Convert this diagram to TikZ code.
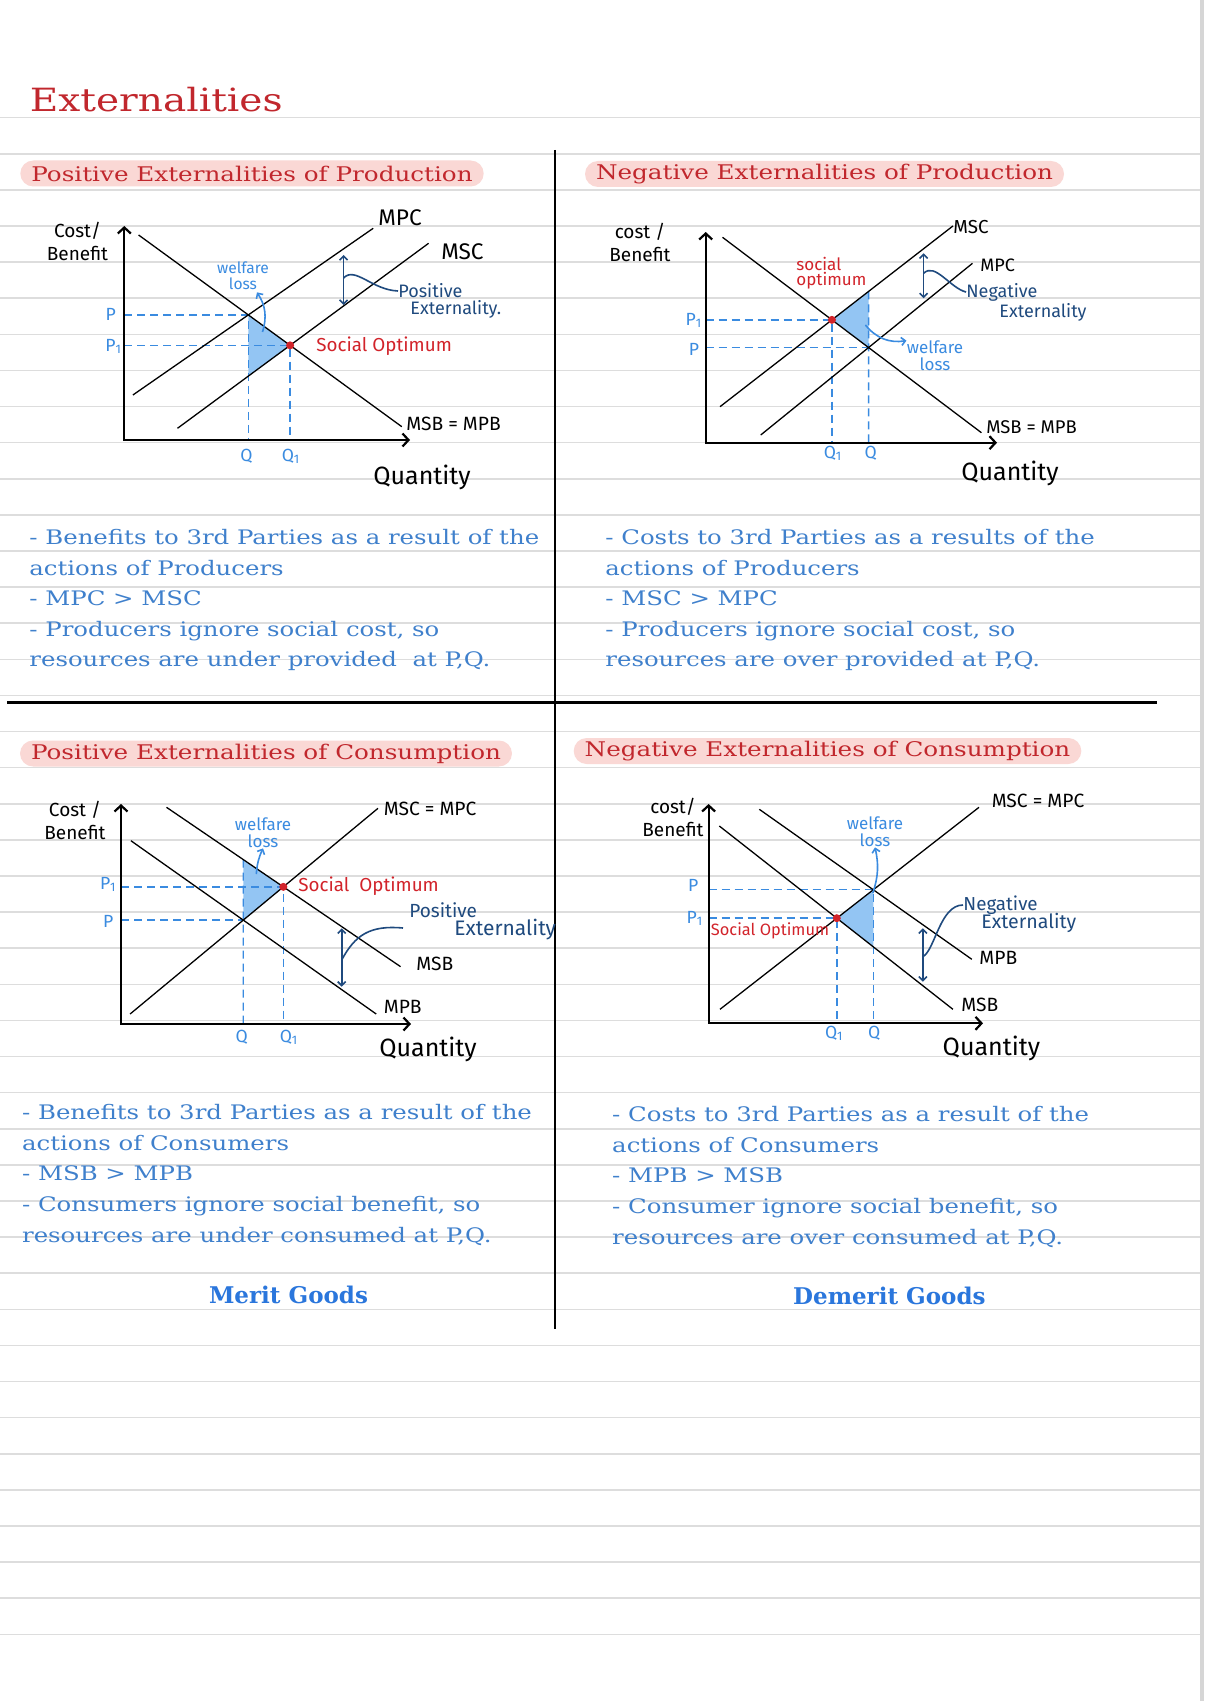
\documentclass[tikz,border=0pt]{standalone}
\usepackage{fontspec}
\setmainfont{DejaVu Serif}
\newfontfamily\typefont{DejaVu Serif}[FakeStretch=1.22]
\newfontfamily\handfont{Fira Sans}
\usetikzlibrary{arrows.meta}
\definecolor{notered}{HTML}{C1272D}
\definecolor{notepink}{HTML}{FAD8D5}
\definecolor{noteblue}{HTML}{3F80CC}
\definecolor{meritblue}{HTML}{2A76DC}
\definecolor{guideblue}{HTML}{3A8BE0}
\definecolor{lossblue}{HTML}{93C5F3}
\definecolor{extnavy}{HTML}{1F4A7E}
\definecolor{optred}{HTML}{D2232A}
\definecolor{rulegray}{HTML}{DDDDDD}
\definecolor{edgegray}{HTML}{D6D6D6}

\begin{document}
\begin{tikzpicture}[
  x=0.5pt,
  y=-0.5pt,
  every node/.style={inner sep=0pt},
  rule/.style={rulegray, line width=0.8pt},
  divider/.style={black, line width=0.9pt},
  pagetitle/.style={anchor=base west, text=notered, font=\typefont\fontsize{16}{19}\selectfont},
  heading/.style={fill=notepink, rounded corners=6.5pt, minimum height=13pt, inner xsep=5.5pt,
    text=notered, font=\typefont\fontsize{10.1}{12}\selectfont},
  notes/.style={anchor=north west, align=left, text=noteblue, font=\typefont\fontsize{10}{15.3}\selectfont},
  goods/.style={text=meritblue, font=\rmfamily\bfseries\fontsize{11.5}{13}\selectfont},
  axis/.style={black, line width=1.1pt, {Straight Barb[length=3pt,width=6.5pt]}-{Straight Barb[length=3pt,width=6.5pt]}},
  curve/.style={black, line width=0.65pt},
  guide/.style={guideblue, line width=0.7pt, dash pattern=on 4pt off 2.5pt},
  loss/.style={fill=lossblue},
  optimum/.style={fill=optred},
  curvelabel/.style={anchor=west, font=\handfont\fontsize{9.6}{11}\selectfont},
  costlabel/.style={align=center, font=\handfont\fontsize{9.5}{11.5}\selectfont},
  qtylabel/.style={font=\handfont\fontsize{12.5}{14}\selectfont},
  pq/.style={text=guideblue, font=\handfont\fontsize{8.8}{10}\selectfont},
  social/.style={text=optred, font=\handfont\fontsize{9.4}{10}\selectfont},
  welfare/.style={text=guideblue, align=center, font=\handfont\fontsize{8.5}{8.5}\selectfont},
  ext/.style={anchor=west, text=extnavy, font=\handfont\fontsize{9}{10}\selectfont},
  extarrow/.style={extnavy, line width=0.8pt, {Straight Barb[length=2pt,width=4pt]}-{Straight Barb[length=2pt,width=4pt]}},
  extlink/.style={extnavy, line width=0.8pt},
  lossarrow/.style={guideblue, line width=0.8pt, -{Straight Barb[length=2pt,width=4pt]}}
]
  \useasboundingbox (0,0) rectangle (1204,1701);
  \fill[white] (0,0) rectangle (1204,1701);

  % ---- the ruled page --------------------------------------------------
  \foreach \k in {0,...,42}
    \draw[rule] (0,{117.7+36.11*\k}) -- (1200,{117.7+36.11*\k});
  \fill[edgegray] (1200,0) rectangle (1204,1701);
  \draw[divider] (555,150) -- (555,1329);
  \draw[black, line width=1.4pt] (7,702.5) -- (1157,702.5);

  \node[pagetitle] (title) at (29.5,111.7) {Externalities};

  % ---- positive externalities of production ----------------------------
  \node[heading] (h1) at (252,173.5) {Positive Externalities of Production};

  \coordinate (g1o) at (124.3,440);
  \coordinate (g1y) at (124.3,226);
  \coordinate (g1x) at (410,440);
  \coordinate (g1d1) at (138.6,235);
  \coordinate (g1d2) at (401.8,426.7);
  \coordinate (g1c1) at (132.9,395);
  \coordinate (g1c2) at (373.2,228.3);
  \coordinate (g1s1) at (177.5,428.3);
  \coordinate (g1s2) at (428.6,243.3);
  \coordinate (g1e) at (intersection of g1d1--g1d2 and g1c1--g1c2);
  \coordinate (g1so) at (intersection of g1d1--g1d2 and g1s1--g1s2);
  \coordinate (g1q) at (g1e |- g1o);
  \coordinate (g1q1) at (g1so |- g1o);
  \coordinate (g1t) at (intersection of g1e--g1q and g1s1--g1s2);

  \fill[loss] (g1e) -- (g1t) -- (g1so) -- cycle;
  \draw[guide] (g1e -| g1o) -- (g1e) -- (g1q);
  \draw[guide] (g1so -| g1o) -- (g1so) -- (g1q1);
  \draw[curve] (g1d1) -- (g1d2);
  \draw[curve] (g1c1) -- (g1c2);
  \draw[curve] (g1s1) -- (g1s2);
  \draw[axis] (g1y) -- (g1o) -- (g1x);
  \fill[optimum] (g1so) circle (2pt);

  \node[costlabel] (g1cb) at (77.5,241) {Cost/\\Benefit};
  \node[curvelabel, font=\handfont\fontsize{11.3}{12}\selectfont] (g1mpc) at (378,218) {MPC};
  \node[curvelabel, font=\handfont\fontsize{11.3}{12}\selectfont] (g1msc) at (441,252) {MSC};
  \node[curvelabel] (g1msb) at (406,424) {MSB = MPB};
  \node[qtylabel] (g1qty) at (422,477) {Quantity};
  \node[pq] (g1pl) at (110.7,314) {P};
  \node[pq] (g1p1l) at (113.6,346) {P\textsubscript{1}};
  \node[pq] (g1ql) at (246.4,456) {Q};
  \node[pq] (g1q1l) at (291,456) {Q\textsubscript{1}};
  \node[social, anchor=west] (g1soc) at (316,346.5) {Social Optimum};
  \node[welfare, font=\handfont\fontsize{7.8}{8}\selectfont] (g1loss) at (243,276) {welfare\\loss};
  \coordinate (g1w) at (262.5,332);
  \draw[lossarrow] (g1w) to[bend right=25] ([xshift=7pt,yshift=-1pt]g1loss.south);

  \coordinate (g1xa) at (343.6,255);
  \coordinate (g1xb) at (343.6,305);
  \coordinate (g1xm) at (343.6,278);
  \node[ext] (g1pos) at (398,291) {Positive};
  \node[ext] (g1ext) at (410,309) {Externality.};
  \draw[extarrow] (g1xa) -- (g1xb);
  \draw[extlink] (g1xm) .. controls (355,266) and (372,290) .. (g1pos.west);

  % ---- negative externalities of production ----------------------------
  \node[heading] (h2) at (824.5,174) {Negative Externalities of Production};

  \coordinate (g2o) at (705.7,442.7);
  \coordinate (g2y) at (705.7,232);
  \coordinate (g2x) at (997,442.7);
  \coordinate (g2d1) at (722.5,237.3);
  \coordinate (g2d2) at (981.4,432.7);
  \coordinate (g2s1) at (720,406.7);
  \coordinate (g2s2) at (952.9,226);
  \coordinate (g2c1) at (760.7,435);
  \coordinate (g2c2) at (972.5,263.3);
  \coordinate (g2so) at (intersection of g2d1--g2d2 and g2s1--g2s2);
  \coordinate (g2e) at (intersection of g2d1--g2d2 and g2c1--g2c2);
  \coordinate (g2q) at (g2e |- g2o);
  \coordinate (g2q1) at (g2so |- g2o);
  \coordinate (g2t) at (intersection of g2e--g2q and g2s1--g2s2);

  \fill[loss] (g2so) -- (g2t) -- (g2e) -- cycle;
  \draw[guide] (g2so -| g2o) -- (g2so) -- (g2q1);
  \draw[guide] (g2e -| g2o) -- (g2e);
  \draw[guide] (g2t) -- (g2q);
  \draw[curve] (g2d1) -- (g2d2);
  \draw[curve] (g2s1) -- (g2s2);
  \draw[curve] (g2c1) -- (g2c2);
  \draw[axis] (g2y) -- (g2o) -- (g2x);
  \fill[optimum] (g2so) circle (2pt);

  \node[costlabel] (g2cb) at (640,242) {cost /\\Benefit};
  \node[curvelabel, font=\handfont\fontsize{9.4}{11}\selectfont] (g2msc) at (953,227) {MSC};
  \node[curvelabel, font=\handfont\fontsize{9}{11}\selectfont] (g2mpc) at (980,265) {MPC};
  \node[curvelabel, font=\handfont\fontsize{9.2}{11}\selectfont] (g2msb) at (986,427) {MSB = MPB};
  \node[qtylabel] (g2qty) at (1010,473) {Quantity};
  \node[pq] (g2p1l) at (694,320) {P\textsubscript{1}};
  \node[pq] (g2pl) at (694,349) {P};
  \node[pq] (g2q1l) at (833,453) {Q\textsubscript{1}};
  \node[pq] (g2ql) at (870.7,453) {Q};
  \node[social, align=left, anchor=west, font=\handfont\fontsize{8.5}{7.5}\selectfont] (g2soc) at (796,273) {social\\optimum};
  \node[welfare] (g2loss) at (935,356) {welfare\\loss};
  \coordinate (g2w) at (865.4,325);
  \draw[lossarrow] (g2w) to[bend right=30] (g2loss.north west);

  \coordinate (g2xa) at (923.6,253.3);
  \coordinate (g2xb) at (923.6,298.3);
  \coordinate (g2xm) at (923.6,273.3);
  \node[ext] (g2neg) at (966,292) {Negative};
  \node[ext] (g2ext) at (999,312) {Externality};
  \draw[extarrow] (g2xa) -- (g2xb);
  \draw[extlink] (g2xm) .. controls (935,262) and (950,288) .. (g2neg.west);

  % ---- notes for production --------------------------------------------
  \node[notes] (n1) at (29,529) {- Benefits to 3rd Parties as a result of the\\actions of Producers\\- MPC > MSC\\- Producers ignore social cost, so\\resources are under provided\ \ at P,Q.};
  \node[notes] (n2) at (605,529) {- Costs to 3rd Parties as a results of the\\actions of Producers\\- MSC > MPC\\- Producers ignore social cost, so\\resources are over provided at P,Q.};

  % ---- positive externalities of consumption ---------------------------
  \node[heading] (h3) at (266,753.5) {Positive Externalities of Consumption};

  \coordinate (g3o) at (121,1024);
  \coordinate (g3y) at (121,804);
  \coordinate (g3x) at (411,1024);
  \coordinate (g3b1) at (166.5,807.3);
  \coordinate (g3b2) at (400.6,966.7);
  \coordinate (g3m1) at (130.9,840.7);
  \coordinate (g3m2) at (376.2,1014);
  \coordinate (g3s1) at (130.1,1014);
  \coordinate (g3s2) at (378,808.3);
  \coordinate (g3so) at (intersection of g3b1--g3b2 and g3s1--g3s2);
  \coordinate (g3e) at (intersection of g3m1--g3m2 and g3s1--g3s2);
  \coordinate (g3q) at (g3e |- g3o);
  \coordinate (g3q1) at (g3so |- g3o);
  \coordinate (g3t) at (intersection of g3e--g3q and g3b1--g3b2);

  \fill[loss] (g3t) -- (g3so) -- (g3e) -- cycle;
  \draw[guide] (g3so -| g3o) -- (g3so) -- (g3q1);
  \draw[guide] (g3e -| g3o) -- (g3e);
  \draw[guide] (g3t) -- (g3q);
  \draw[curve] (g3b1) -- (g3b2);
  \draw[curve] (g3m1) -- (g3m2);
  \draw[curve] (g3s1) -- (g3s2);
  \draw[axis] (g3y) -- (g3o) -- (g3x);
  \fill[optimum] (g3so) circle (2pt);

  \node[costlabel] (g3cb) at (75,820) {Cost /\\Benefit};
  \node[curvelabel] (g3msc) at (383.5,809) {MSC = MPC};
  \node[curvelabel] (g3msb) at (416,964) {MSB};
  \node[curvelabel] (g3mpb) at (383.5,1007) {MPB};
  \node[qtylabel] (g3qty) at (428,1049) {Quantity};
  \node[pq] (g3p1l) at (108.3,884) {P\textsubscript{1}};
  \node[pq] (g3pl) at (108.3,921.7) {P};
  \node[pq] (g3ql) at (241.7,1037) {Q};
  \node[pq] (g3q1l) at (289,1037) {Q\textsubscript{1}};
  \node[social, anchor=west] (g3soc) at (298,886) {Social\ \ Optimum};
  \node[welfare] (g3loss) at (263,833) {welfare\\loss};
  \coordinate (g3w) at (256.3,874);
  \draw[lossarrow] (g3w) to[bend left=10] (g3loss.south);

  \coordinate (g3xa) at (341.7,928.3);
  \coordinate (g3xb) at (341.7,986.7);
  \coordinate (g3xm) at (341.7,960);
  \node[ext, font=\handfont\fontsize{9.5}{10}\selectfont] (g3pos) at (409,910) {Positive};
  \node[ext, font=\handfont\fontsize{10.5}{11}\selectfont] (g3ext) at (454,930) {Externality};
  \draw[extarrow] (g3xa) -- (g3xb);
  \draw[extlink] (g3xm) .. controls (355,935) and (370,925) .. ([xshift=-3pt,yshift=-9pt]g3pos.west);

  % ---- negative externalities of consumption ---------------------------
  \node[heading] (h4) at (827.5,751) {Negative Externalities of Consumption};

  \coordinate (g4o) at (708.6,1023.3);
  \coordinate (g4y) at (708.6,804);
  \coordinate (g4x) at (983,1023.3);
  \coordinate (g4m1) at (759.3,809.3);
  \coordinate (g4m2) at (971.8,959.3);
  \coordinate (g4b1) at (719.3,826);
  \coordinate (g4b2) at (952.9,1009.3);
  \coordinate (g4s1) at (720,1009.3);
  \coordinate (g4s2) at (979,807.3);
  \coordinate (g4e) at (intersection of g4m1--g4m2 and g4s1--g4s2);
  \coordinate (g4so) at (intersection of g4b1--g4b2 and g4s1--g4s2);
  \coordinate (g4q) at (g4e |- g4o);
  \coordinate (g4q1) at (g4so |- g4o);
  \coordinate (g4t) at (intersection of g4e--g4q and g4b1--g4b2);

  \fill[loss] (g4so) -- (g4e) -- (g4t) -- cycle;
  \draw[guide] (g4e -| g4o) -- (g4e) -- (g4q);
  \draw[guide] (g4so -| g4o) -- (g4so) -- (g4q1);
  \draw[curve] (g4m1) -- (g4m2);
  \draw[curve] (g4b1) -- (g4b2);
  \draw[curve] (g4s1) -- (g4s2);
  \draw[axis] (g4y) -- (g4o) -- (g4x);
  \fill[optimum] (g4so) circle (2pt);

  \node[costlabel] (g4cb) at (673,817) {cost/\\Benefit};
  \node[curvelabel] (g4msc) at (991.4,801) {MSC = MPC};
  \node[curvelabel] (g4mpb) at (979,958) {MPB};
  \node[curvelabel] (g4msb) at (961,1005) {MSB};
  \node[qtylabel] (g4qty) at (991.4,1048) {Quantity};
  \node[pq] (g4pl) at (693.2,885) {P};
  \node[pq] (g4p1l) at (695,918.3) {P\textsubscript{1}};
  \node[pq] (g4q1l) at (834.3,1033.3) {Q\textsubscript{1}};
  \node[pq] (g4ql) at (874.3,1033.3) {Q};
  \node[social, font=\handfont\fontsize{8.2}{9}\selectfont] (g4soc) at (770,931) {Social Optimum};
  \node[welfare] (g4loss) at (875,832) {welfare\\loss};
  \coordinate (g4w) at (872.9,893);
  \draw[lossarrow] (g4w) to[bend right=15] (g4loss.south);

  \coordinate (g4xa) at (922.9,928.3);
  \coordinate (g4xb) at (922.9,981.7);
  \coordinate (g4xm) at (922.9,956.7);
  \node[ext, font=\handfont\fontsize{9.4}{10}\selectfont] (g4neg) at (963,905) {Negative};
  \node[ext, font=\handfont\fontsize{9.8}{10}\selectfont] (g4ext) at (981,923) {Externality};
  \draw[extarrow] (g4xa) -- (g4xb);
  \draw[extlink] (g4xm) .. controls (935,950) and (940,905) .. (g4neg.west);

  % ---- notes for consumption -------------------------------------------
  \node[notes] (n3) at (21.7,1104) {- Benefits to 3rd Parties as a result of the\\actions of Consumers\\- MSB > MPB\\- Consumers ignore social benefit, so\\resources are under consumed at P,Q.};
  \node[notes] (n4) at (611.8,1106) {- Costs to 3rd Parties as a result of the\\actions of Consumers\\- MPB > MSB\\- Consumer ignore social benefit, so\\resources are over consumed at P,Q.};

  \node[goods] (merit) at (288.5,1295) {Merit Goods};
  \node[goods] (demerit) at (889.4,1296) {Demerit Goods};
\end{tikzpicture}
\end{document}
